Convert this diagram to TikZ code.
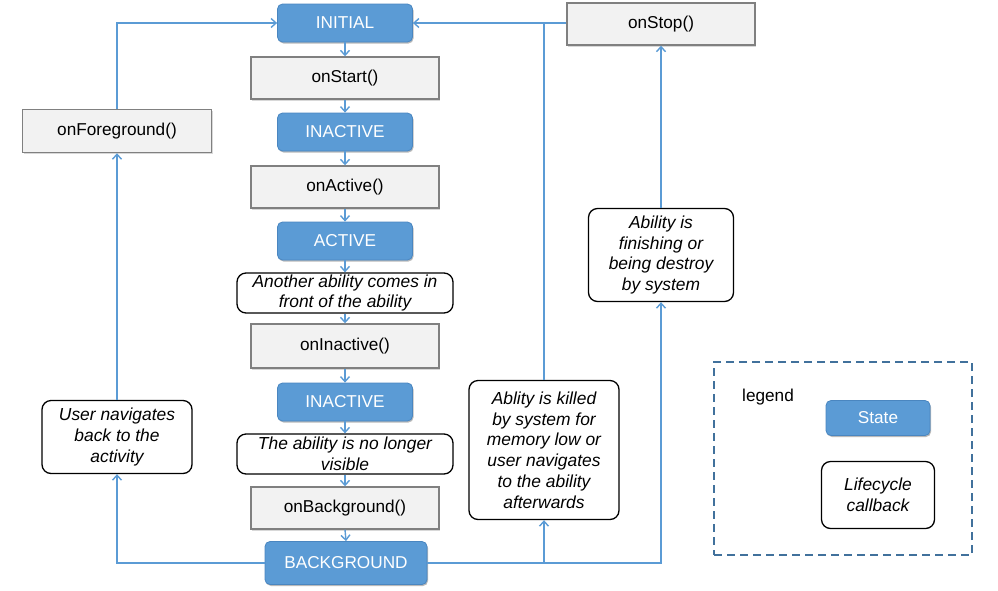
\documentclass[tikz,border=0pt]{standalone}
\usepackage{fontspec}
\setmainfont{Liberation Sans}
\usetikzlibrary{arrows.meta,shadows,positioning}
\definecolor{stblue}{HTML}{5B9BD5}
\definecolor{stborder}{HTML}{4A86C0}
\definecolor{lnblue}{HTML}{5B9BD5}
\definecolor{cbgray}{HTML}{F2F2F2}
\definecolor{cbborder}{HTML}{808080}
\definecolor{lgborder}{HTML}{41719C}
\begin{document}
\begin{tikzpicture}[x=1pt,y=-1pt,
  font=\fontsize{17.2}{21}\selectfont,
  statebox/.style={draw=stborder,line width=0.8pt,fill=stblue,text=white,rounded corners=5pt,
    minimum width=135pt,minimum height=38pt,inner sep=0pt,
    drop shadow={shadow xshift=1pt,shadow yshift=-1.5pt,fill=black!45,opacity=0.6}},
  callbox/.style={draw=cbborder,line width=1.4pt,fill=cbgray,minimum width=188pt,minimum height=42pt,
    inner sep=0pt,drop shadow={shadow xshift=1pt,shadow yshift=-1.5pt,fill=black!30,opacity=0.5}},
  eventbox/.style={draw=black,line width=1.3pt,fill=white,rounded corners=9pt,align=center,
    font=\fontsize{17.4}{20.8}\selectfont\itshape,inner sep=1pt},
  conn/.style={draw=lnblue,line width=1.4pt},
  arr/.style={conn,-{Straight Barb[length=5pt,width=9pt,line width=1.4pt]}}
]
\useasboundingbox (0,0) rectangle (998,590);
% main column
\node[statebox] (init) at (345,23) {INITIAL};
\node[callbox] (onstart) at (345,78) {onStart()};
\node[statebox] (inact1) at (345,132) {INACTIVE};
\node[callbox] (onactive) at (345,187) {onActive()};
\node[statebox] (active) at (345,241) {ACTIVE};
\node[eventbox,minimum width=216pt,minimum height=40pt] (another) at (345,293) {Another ability comes in\\front of the ability};
\node[callbox,minimum height=44pt] (oninact) at (345,346) {onInactive()};
\node[statebox] (inact2) at (345,402) {INACTIVE};
\node[eventbox,minimum width=216pt,minimum height=40pt] (novis) at (345,454) {The ability is no longer\\visible};
\node[callbox] (onbg) at (345,508) {onBackground()};
\node[statebox,minimum width=162pt,minimum height=43pt] (bg) at (346,563) {BACKGROUND};
% left column
\node[callbox,minimum width=189pt,minimum height=43pt] (onfg) at (117,131) {onForeground()};
\node[eventbox,minimum width=150pt,minimum height=73pt] (usernav) at (117,437) {User navigates\\back to the\\activity};
% middle right
\node[eventbox,minimum width=150pt,minimum height=139pt] (killed) at (544,450) {Ablity is killed\\by system for\\memory low or\\user navigates\\to the ability\\afterwards};
% right column
\node[callbox,minimum width=188pt,minimum height=42pt] (onstop) at (661,24) {onStop()};
\node[eventbox,minimum width=145pt,minimum height=93pt] (finish) at (661,255) {Ability is\\finishing or\\being destroy\\by system};
% legend
\node[draw=lgborder,line width=1.5pt,dash pattern=on 8pt off 5pt,minimum width=258pt,minimum height=193pt,inner sep=0pt] (legend) at (843,458.5) {};
\node[anchor=west,inner sep=0pt] (legtext) at (742,397) {legend};
\node[statebox,minimum width=104pt,minimum height=35pt] (legstate) at (878,418) {State};
\node[eventbox,minimum width=113pt,minimum height=67pt] (legcb) at (878,495) {Lifecycle\\callback};
% vertical chain arrows
\foreach \a/\b in {init/onstart,onstart/inact1,inact1/onactive,onactive/active,active/another,another/oninact,oninact/inact2,inact2/novis,novis/onbg,onbg/bg}
  \draw[arr] (\a.south) -- (\b.north);
% left loop
\coordinate (bgL) at (117,563);
\draw[arr] (bg.west) -- (bgL) -- (usernav.south);
\draw[arr] (usernav.north) -- (onfg.south);
\coordinate (topL) at (117,23);
\draw[arr] (onfg.north) -- (topL) -- (init.west);
% killed path
\coordinate (bgK) at (544,563);
\coordinate (topK) at (544,23);
\draw[conn] (bg.east) -- (bgK);
\draw[arr] (bgK) -- (killed.south);
\draw[conn] (killed.north) -- (topK);
\draw[arr] (onstop.west |- 0,23) -- (init.east);
% finish path
\coordinate (bgF) at (661,563);
\draw[arr] (bgK) -- (bgF) -- (finish.south);
\draw[arr] (finish.north) -- (onstop.south);
\end{tikzpicture}
\end{document}
